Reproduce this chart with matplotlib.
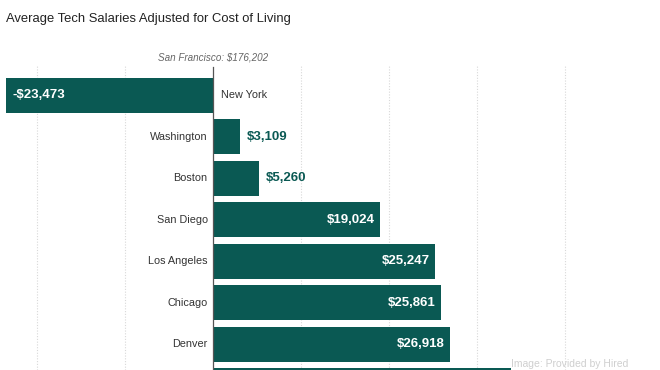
import matplotlib
matplotlib.use("Agg")
import matplotlib.pyplot as plt

cities = ["New York", "Washington", "Boston", "San Diego", "Los Angeles", "Chicago", "Denver", "Austin"]
values = [-23473, 3109, 5260, 19024, 25247, 25861, 26918, 33900]
value_labels = ["-$23,473", "$3,109", "$5,260", "$19,024", "$25,247", "$25,861", "$26,918", "$33,900"]
gridlines = [-20000, -10000, 10000, 20000, 30000, 40000]
title = "Average Tech Salaries Adjusted for Cost of Living"
baseline_note = "San Francisco: $176,202"
credit = "Image: Provided by Hired"

plt.rcParams['font.family'] = ['Liberation Sans', 'DejaVu Sans']
TEAL = "#0a5953"

fig = plt.figure(figsize=(6.6, 3.7), dpi=100)
ax = fig.add_axes([0, 0, 1, (370 - 65) / 370])
ymax = 6.62
ax.set_xlim(-24205, 50795)
ax.set_ylim(ymax, -0.73)
for s in ax.spines.values():
    s.set_visible(False)
ax.set_xticks([])
ax.set_yticks([])

for g in gridlines:
    ax.axvline(g, color="#d8d8d8", lw=0.8, ls=(0, (1, 1.5)), zorder=0)

ypos = list(range(len(cities)))
ax.barh(ypos, values, height=0.85, color=TEAL, zorder=2)
ax.plot([0, 0], [-0.67, ymax], color="#555555", lw=0.9, zorder=3, clip_on=False)

for y, c, v, lab in zip(ypos, cities, values, value_labels):
    if y > ymax - 0.3:
        continue  # bar is cut off at the bottom edge; its labels are not visible
    if v < 0:
        ax.text(900, y, c, ha="left", va="center", fontsize=7.8, color="#333333")
        ax.text(v + 700, y, lab, ha="left", va="center", fontsize=9.5, color="white",
                fontweight="bold")
    else:
        ax.text(-600, y, c, ha="right", va="center", fontsize=7.8, color="#333333")
        if v < 10000:
            ax.text(v + 700, y, lab, ha="left", va="center", fontsize=9.5, color=TEAL,
                    fontweight="bold")
        else:
            ax.text(v - 600, y, lab, ha="right", va="center", fontsize=9.5, color="white",
                    fontweight="bold")

fig.text(6 / 660, 1 - 19 / 370, title, ha="left", va="center", fontsize=9.4, color="#222222")
fig.text(213 / 660, 1 - 57 / 370, baseline_note, ha="center", va="center", fontsize=7.1,
         color="#666666", style="italic")
fig.text(570 / 660, 1 - 364 / 370, credit, ha="center", va="center", fontsize=7.5,
         color="#cfcfcf")

fig.savefig("out.png", dpi=100)
